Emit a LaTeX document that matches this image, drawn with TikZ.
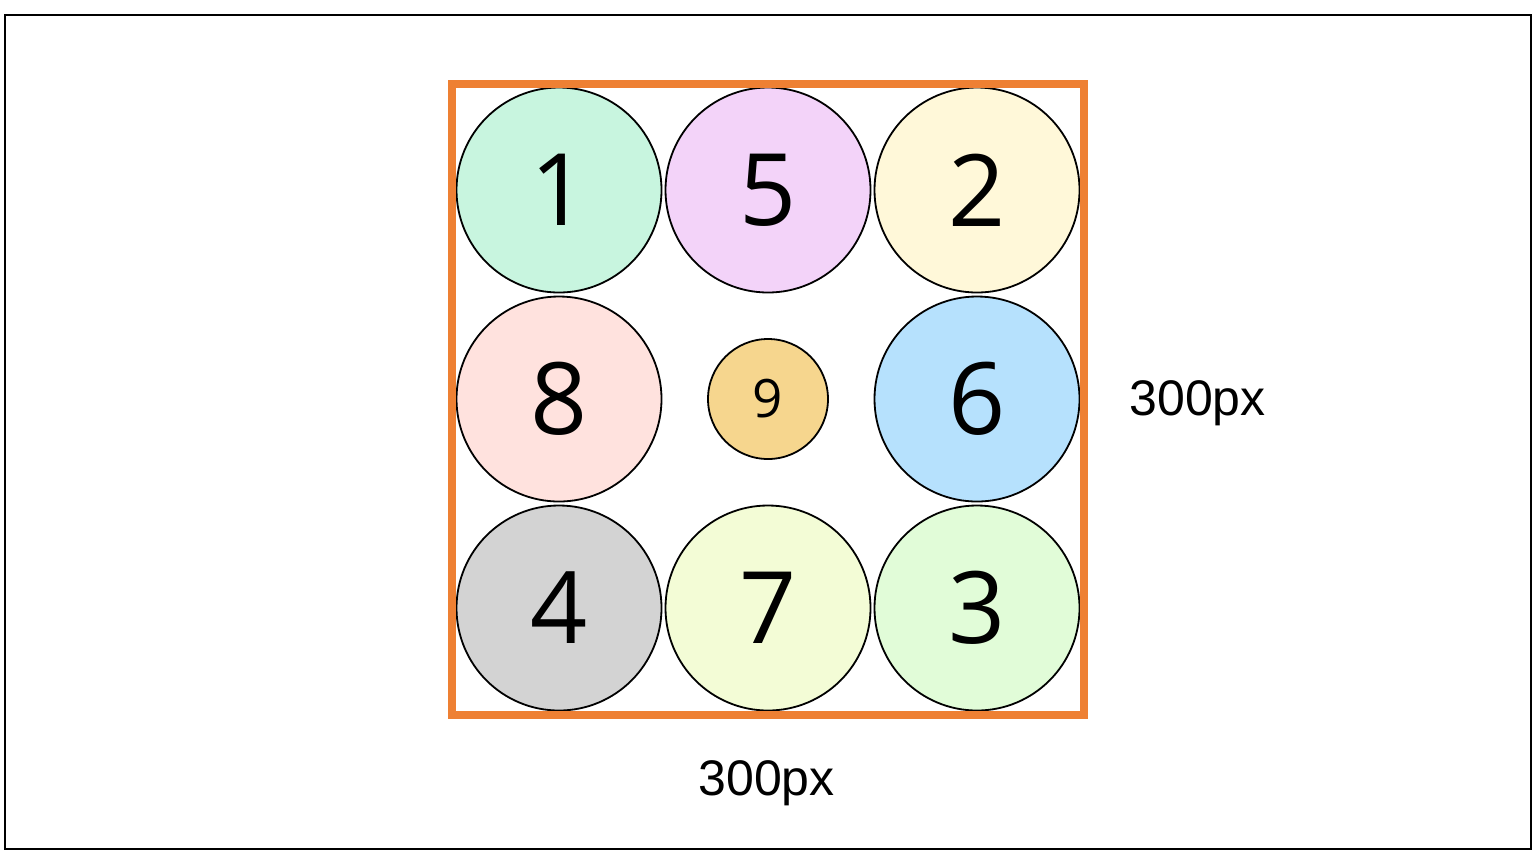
\documentclass[tikz,border=0pt]{standalone}
\usepackage{fontspec}
\setmainfont{Liberation Sans}
\newfontfamily\digitfont{Open Sans}
\definecolor{cOne}{HTML}{C8F5DF}
\definecolor{cFive}{HTML}{F3D3F9}
\definecolor{cTwo}{HTML}{FFF8D9}
\definecolor{cEight}{HTML}{FFE2DE}
\definecolor{cNine}{HTML}{F6D68E}
\definecolor{cSix}{HTML}{B6E1FD}
\definecolor{cFour}{HTML}{D3D3D3}
\definecolor{cSeven}{HTML}{F3FCD6}
\definecolor{cThree}{HTML}{E1FCD8}
\definecolor{cOrange}{HTML}{EE8033}
\begin{document}
\begin{tikzpicture}[x=0.5pt,y=-0.5pt,
  ball/.style={circle,draw=black,line width=0.9pt,minimum size=102.5pt,inner sep=0pt,font=\digitfont\fontsize{50}{50}\selectfont},
  smallball/.style={circle,draw=black,line width=0.9pt,minimum size=60pt,inner sep=0pt,font=\digitfont\fontsize{26.5}{26.5}\selectfont},
  dimlabel/.style={anchor=base west,inner sep=0pt,font=\fontsize{25}{25}\selectfont}]
\useasboundingbox (0,0) rectangle (1536,864);
\fill[white] (0,0) rectangle (1536,864);
\draw[black,line width=0.75pt] (5,15) rectangle (1531,849);
\node[ball,fill=cOne]   (n1) at (559,190) {1};
\node[ball,fill=cFive]  (n5) at (768,190) {5};
\node[ball,fill=cTwo]   (n2) at (977,190) {2};
\node[ball,fill=cEight] (n8) at (559,399) {8};
\node[smallball,fill=cNine] (n9) at (768,399) {9};
\node[ball,fill=cSix]   (n6) at (977,399) {6};
\node[ball,fill=cFour]  (n4) at (559,608) {4};
\node[ball,fill=cSeven] (n7) at (768,608) {7};
\node[ball,fill=cThree] (n3) at (977,608) {3};
\draw[cOrange,line width=4pt] (452,84) rectangle (1084,715);
\node[dimlabel] (lh) at (1129,415) {300px};
\node[dimlabel] (lw) at (698,795) {300px};
\end{tikzpicture}
\end{document}
